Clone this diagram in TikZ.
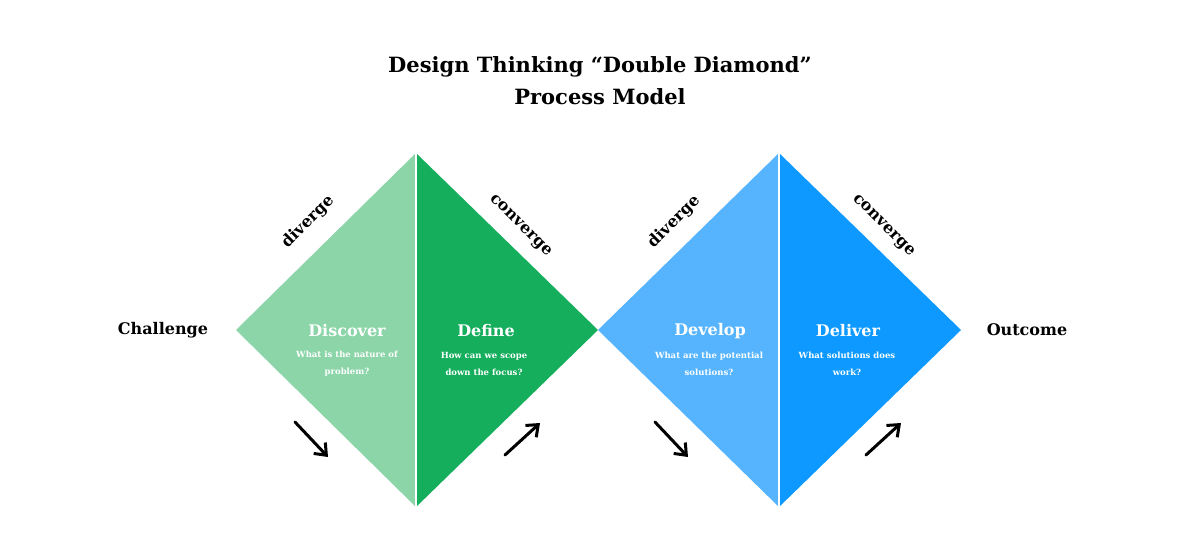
\documentclass[tikz,border=0pt]{standalone}
\usepackage{fontspec}
\setmainfont{DejaVu Serif}
\usetikzlibrary{arrows.meta}
\definecolor{lg}{HTML}{8BD5A8}
\definecolor{dg}{HTML}{14AE5C}
\definecolor{lb}{HTML}{56B4FF}
\definecolor{db}{HTML}{0D99FF}
\begin{document}
\begin{tikzpicture}[x=1pt,y=-1pt,
 lbl/.style={font=\bfseries\fontsize{16}{18}\selectfont},
 hd/.style={font=\bfseries\fontsize{16}{18}\selectfont,text=white},
 sub/.style={font=\bfseries\fontsize{8.5}{17}\selectfont,text=white,align=center},
 arr/.style={line width=3pt,-{Straight Barb[length=10pt,width=16pt,line width=3pt]},line cap=round}]
\useasboundingbox[fill=white] (0,0) rectangle (1200,552);
\coordinate (aL) at (236,330); \coordinate (aT) at (416,153); \coordinate (aB) at (416,507);
\coordinate (m) at (598,330); \coordinate (bT) at (779,153); \coordinate (bB) at (779,507);
\coordinate (bR) at (961,330);
\fill[lg] (aL)--(aT)--(aB)--cycle;
\fill[dg] (aT)--(m)--(aB)--cycle;
\fill[lb] (m)--(bT)--(bB)--cycle;
\fill[db] (bT)--(bR)--(bB)--cycle;
\draw[white,line width=1.5pt] (aT)--(aB) (bT)--(bB);
\node[font=\bfseries\fontsize{21}{32}\selectfont,align=center] (t) at (600,81) {Design Thinking “Double Diamond”\\Process Model};
\node[lbl] (c) at (163,330) {Challenge};
\node[lbl] (o) at (1027,330) {Outcome};
\node[lbl,rotate=45,inner sep=0pt] (d1) at (308,222) {diverge};
\node[lbl,rotate=-45,inner sep=0pt] (c1) at (520,226) {converge};
\node[lbl,rotate=45,inner sep=0pt] (d2) at (674,222) {diverge};
\node[lbl,rotate=-45,inner sep=0pt] (c2) at (883,226) {converge};
\node[hd] (h1) at (347,331) {Discover};
\node[hd] (h2) at (486,331) {Define};
\node[hd] (h3) at (710,331) {Develop};
\node[hd] (h4) at (848,331) {Deliver};
\node[sub] (s1) at (347,364) {What is the nature of\\problem?};
\node[sub] (s2) at (484,364) {How can we scope\\down the focus?};
\node[sub] (s3) at (709,364) {What are the potential\\solutions?};
\node[sub] (s4) at (847,364) {What solutions does\\work?};
\coordinate (p1) at (295,422); \coordinate (q1) at (328,457);
\coordinate (p2) at (505,455); \coordinate (q2) at (540,423);
\coordinate (p3) at (655,422); \coordinate (q3) at (688,457);
\coordinate (p4) at (866,455); \coordinate (q4) at (901,423);
\draw[arr] (p1)--(q1); \draw[arr] (p2)--(q2);
\draw[arr] (p3)--(q3); \draw[arr] (p4)--(q4);
\end{tikzpicture}
\end{document}
